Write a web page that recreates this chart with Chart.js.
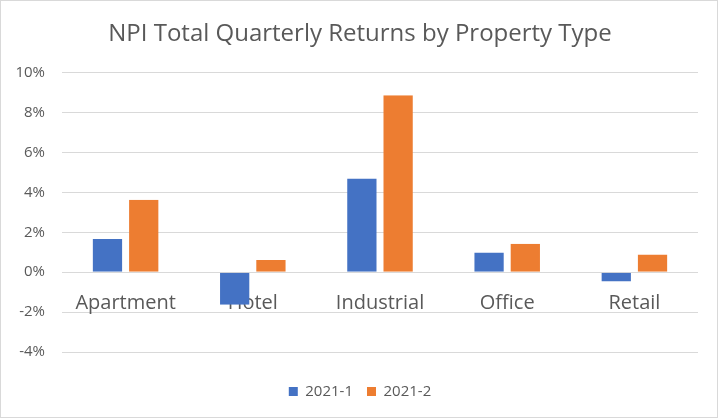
<!DOCTYPE html>
<html>
<head>
<meta charset="utf-8">
<script src="https://cdn.jsdelivr.net/npm/chart.js@4"></script>
<style>
  html, body { margin: 0; padding: 0; background: #fff; }
  #wrap { position: relative; width: 720px; height: 419px; }
  #frame { position: absolute; left: 0; top: 0; width: 718px; height: 418px; box-sizing: border-box;
           border: 1px solid #d9d9d9; pointer-events: none; }
</style>
</head>
<body>
<div id="wrap">
  <canvas id="npiChart" width="720" height="419"></canvas>
  <div id="frame"></div>
</div>
<script>
// data
const propertyTypes = ["Apartment", "Hotel", "Industrial", "Office", "Retail"];
const returnsQ1 = [1.67, -1.63, 4.70, 0.99, -0.47];
const returnsQ2 = [3.64, 0.61, 8.87, 1.43, 0.89];
const seriesNames = ["2021-1", "2021-2"];
const yTicks = [-4, -2, 0, 2, 4, 6, 8, 10];

const textGrey = "#595959";
const fontFamily = "'Open Sans', sans-serif";

// transparent side borders give the small gap between the two bars
const barSides = { left: 3.5, right: 3.5, top: 0, bottom: 0 };

const ctx = document.getElementById("npiChart").getContext("2d");
new Chart(ctx, {
    type: "bar",
    data: {
        labels: propertyTypes,
        datasets: [{
            label: seriesNames[0],
            data: returnsQ1,
            backgroundColor: "#4472C4",
            borderColor: "rgba(0,0,0,0)",
            borderWidth: barSides,
            borderSkipped: false
        }, {
            label: seriesNames[1],
            data: returnsQ2,
            backgroundColor: "#ED7D31",
            borderColor: "rgba(0,0,0,0)",
            borderWidth: barSides,
            borderSkipped: false
        }]
    },
    options: {
        responsive: false,
        animation: false,
        devicePixelRatio: 1,
        layout: { padding: { left: 11, right: 11, top: 0, bottom: 10 } },
        datasets: { bar: { categoryPercentage: 0.57, barPercentage: 1.0 } },
        plugins: {
            tooltip: { enabled: false },
            title: {
                display: true,
                text: "NPI Total Quarterly Returns by Property Type",
                color: textGrey,
                font: { family: fontFamily, size: 24, weight: "normal" },
                padding: { top: 20, bottom: 24 }
            },
            legend: {
                position: "bottom",
                // empty title only reserves the space above the legend items
                title: { display: true, text: " ", font: { size: 1 }, padding: { top: 0, bottom: 16.8 } },
                labels: {
                    color: textGrey,
                    font: { family: fontFamily, size: 15 },
                    boxWidth: 9,
                    boxHeight: 9,
                    padding: 14
                }
            }
        },
        scales: {
            x: {
                position: { y: 0 },
                z: 1,
                grid: { display: false, drawTicks: false },
                border: { display: false },
                ticks: {
                    color: textGrey,
                    font: { family: fontFamily, size: 20 },
                    padding: 19,
                    maxRotation: 0
                }
            },
            y: {
                min: yTicks[0],
                max: yTicks[yTicks.length - 1],
                afterFit: (scale) => { scale.width = 51; },
                afterBuildTicks: (scale) => { scale.ticks = yTicks.map(v => ({ value: v })); },
                grid: { color: "#d9d9d9", lineWidth: 1, drawTicks: false },
                border: { display: false },
                ticks: {
                    color: textGrey,
                    font: { family: fontFamily, size: 15 },
                    padding: 17,
                    callback: (v) => v + "%"
                }
            },
            // blank right-hand spacer so the plot ends where the reference does
            spacer: {
                type: "linear",
                position: "right",
                afterFit: (scale) => { scale.width = 11; },
                grid: { display: false, drawTicks: false },
                border: { display: false },
                ticks: { display: false }
            }
        }
    }
});
</script>
</body>
</html>
